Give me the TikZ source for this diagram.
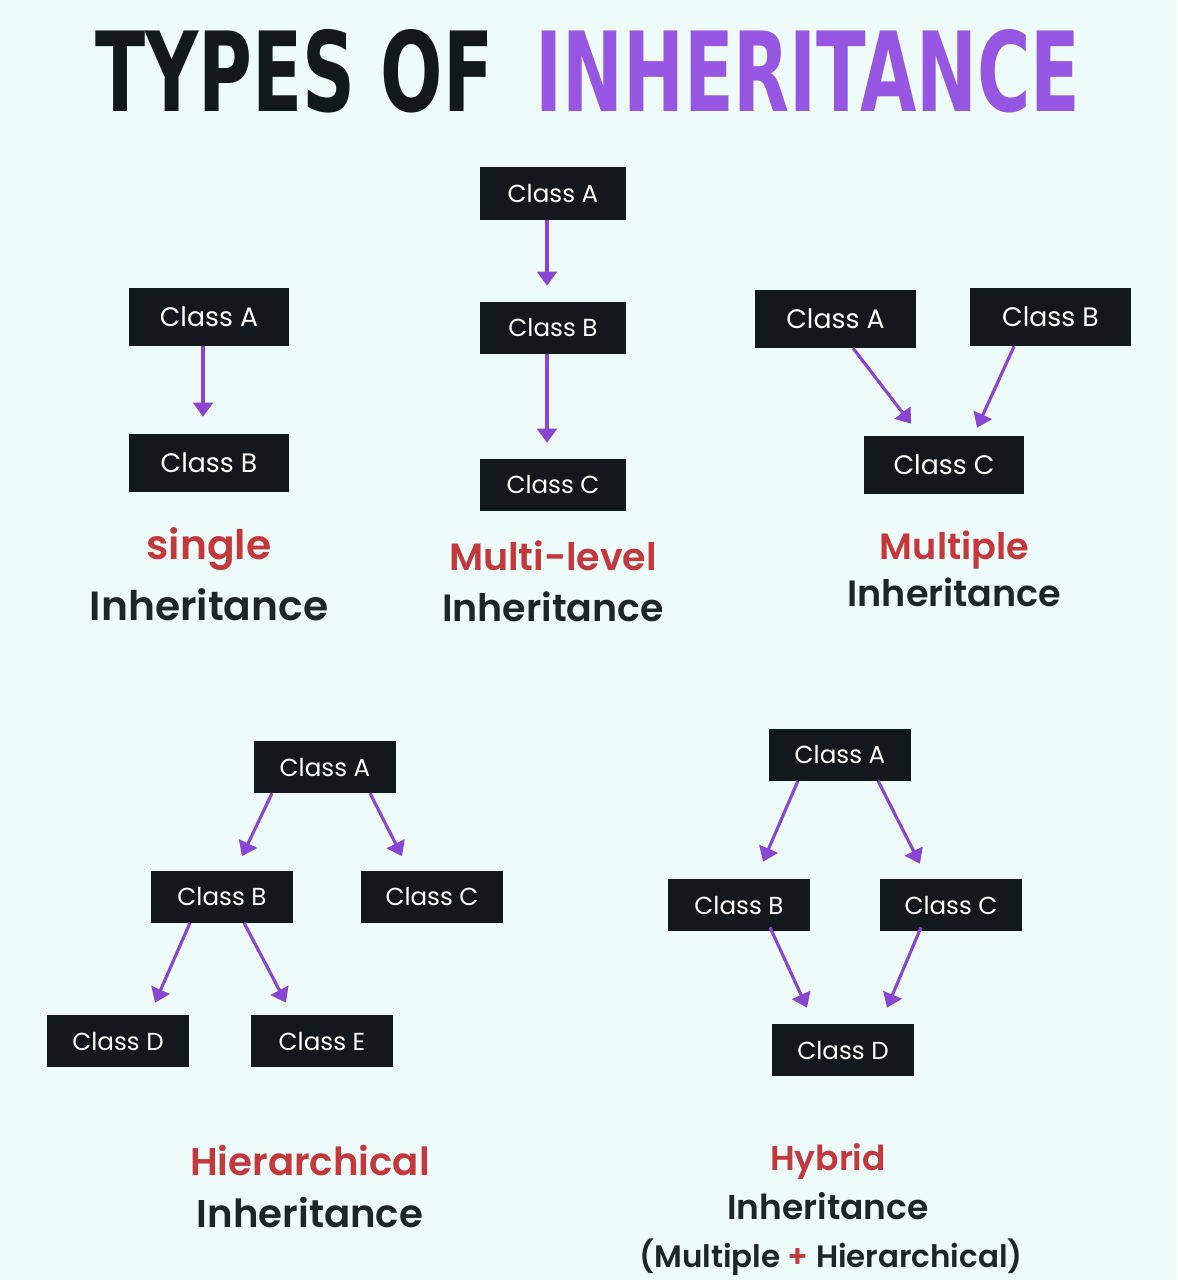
\documentclass[tikz,border=0pt]{standalone}
\usepackage{fontspec}
\setmainfont{Poppins}
\IfFontExistsTF{Poppins SemiBold}{\newfontfamily\labelfont{Poppins SemiBold}}{%
  \IfFontExistsTF{Poppins Medium}{\newfontfamily\labelfont{Poppins Medium}}{\newfontfamily\labelfont{Poppins}[FakeBold=1.5]}}
\IfFontExistsTF{DejaVu Sans Condensed Bold}{\newfontfamily\titlefont{DejaVu Sans Condensed Bold}}{\newfontfamily\titlefont{DejaVu Sans}[FakeBold=0]}
\usepackage{tikz}
\usetikzlibrary{arrows.meta,positioning}
\definecolor{bgcol}{HTML}{EEFBFB}
\definecolor{boxcol}{HTML}{12181B}
\definecolor{arrowcol}{HTML}{8A45D4}
\definecolor{redcol}{HTML}{C4373B}
\definecolor{textcol}{HTML}{1C2528}
\definecolor{titlecol}{HTML}{9656E2}
\tikzset{
  class/.style={fill=boxcol,text=white,minimum width=4cm,minimum height=1.45cm,inner sep=0pt,
    font=\fontsize{19}{19}\selectfont},
  mid class/.style={class,minimum width=3.65cm,minimum height=1.3cm,font=\fontsize{17.5}{17.5}\selectfont},
  small class/.style={class,minimum width=3.55cm,minimum height=1.3cm,font=\fontsize{17.5}{17.5}\selectfont},
  inherits/.style={-{Triangle[width=14pt,length=10pt]},draw=arrowcol,line width=2.2pt},
  kind/.style={anchor=base,text=redcol,inner sep=0pt,font=\labelfont\fontsize{#1}{#1}\selectfont},
  caption/.style={anchor=base,text=textcol,inner sep=0pt,font=\labelfont\fontsize{#1}{#1}\selectfont},
  heading/.style={anchor=west,inner sep=0pt,font=\titlefont}
}
\begin{document}
\begin{tikzpicture}[x=0.025cm,y=-0.025cm]
  \fill[bgcol] (0,0) rectangle (1177,1280);
  \useasboundingbox (0,0) rectangle (1177,1280);
  % title
  \node (t1) [heading,text=boxcol] at (95,71) {\resizebox{9.95cm}{2.05cm}{TYPES OF}};
  \node (t2) [heading,text=titlecol] at (535,71) {\resizebox{13.625cm}{2.05cm}{INHERITANCE}};
  % single
  \node (sA) [class] at (209,317) {Class A};
  \node (sB) [class] at (209,463) {Class B};
  \node (sK) [kind=29] at (209,559) {single};
  \node (sI) [caption=29] at (209,620) {Inheritance};
  \draw[inherits] ([xshift=-0.15cm]sA.south) -- ([xshift=-0.15cm,yshift=0.425cm]sB.north);
  % multi-level
  \node (mA) [mid class] at (553,193.5) {Class A};
  \node (mB) [mid class] at (553,328) {Class B};
  \node (mC) [mid class] at (553,485) {Class C};
  \node (mK) [kind=27] at (553,570) {Multi-level};
  \node (mI) [caption=27] at (553,621) {Inheritance};
  \draw[inherits] ([xshift=-0.15cm]mA.south) -- ([xshift=-0.15cm,yshift=0.4cm]mB.north);
  \draw[inherits] ([xshift=-0.15cm]mB.south) -- ([xshift=-0.15cm,yshift=0.4cm]mC.north);
  % multiple
  \node (pA) [class] at (835.5,319) {Class A};
  \node (pB) [class] at (1050.5,317) {Class B};
  \node (pC) [class] at (944,465) {Class C};
  \node (pK) [kind=26] at (954.5,559) {Multiple};
  \node (pI) [caption=26] at (954.5,606) {Inheritance};
  \draw[inherits] ([xshift=0.44cm]pA.south) -- ([xshift=-0.825cm,yshift=0.3cm]pC.north);
  \draw[inherits] ([xshift=-0.91cm]pB.south) -- ([xshift=0.825cm,yshift=0.2cm]pC.north);
  % hierarchical
  \node (hA) [small class] at (325,767) {Class A};
  \node (hB) [small class] at (222,896.5) {Class B};
  \node (hC) [small class] at (432,896.5) {Class C};
  \node (hD) [small class] at (118,1041) {Class D};
  \node (hE) [small class] at (322,1041) {Class E};
  \node (hK) [kind=27.5] at (310,1175) {Hierarchical};
  \node (hI) [caption=27.5] at (310,1227) {Inheritance};
  \draw[inherits] ([xshift=-1.325cm]hA.south) -- ([xshift=0.5cm,yshift=0.35cm]hB.north);
  \draw[inherits] ([xshift=1.125cm]hA.south) -- ([xshift=-0.75cm,yshift=0.35cm]hC.north);
  \draw[inherits] ([xshift=-0.8cm]hB.south) -- ([xshift=0.925cm,yshift=0.3cm]hD.north);
  \draw[inherits] ([xshift=0.55cm]hB.south) -- ([xshift=-0.9cm,yshift=0.3cm]hE.north);
  % hybrid
  \node (yA) [small class] at (840,754.5) {Class A};
  \node (yB) [small class] at (739,905) {Class B};
  \node (yC) [small class] at (951,905) {Class C};
  \node (yD) [small class] at (843,1050) {Class D};
  \node (yK) [kind=24.5] at (828,1170) {Hybrid};
  \node (yI) [caption=24.5] at (828,1219) {Inheritance};
  \node (yM) [caption=22] at (831,1267) {(Multiple {\color{redcol}+} Hierarchical)};
  \draw[inherits] ([xshift=-1.05cm]yA.south) -- ([xshift=0.6cm,yshift=0.425cm]yB.north);
  \draw[inherits] ([xshift=0.95cm]yA.south) -- ([xshift=-0.775cm,yshift=0.375cm]yC.north);
  \draw[inherits] ([xshift=0.775cm,yshift=0.1cm]yB.south) -- ([xshift=-0.9cm,yshift=0.4cm]yD.north);
  \draw[inherits] ([xshift=-0.75cm,yshift=0.1cm]yC.south) -- ([xshift=1.1cm,yshift=0.4cm]yD.north);
\end{tikzpicture}
\end{document}
